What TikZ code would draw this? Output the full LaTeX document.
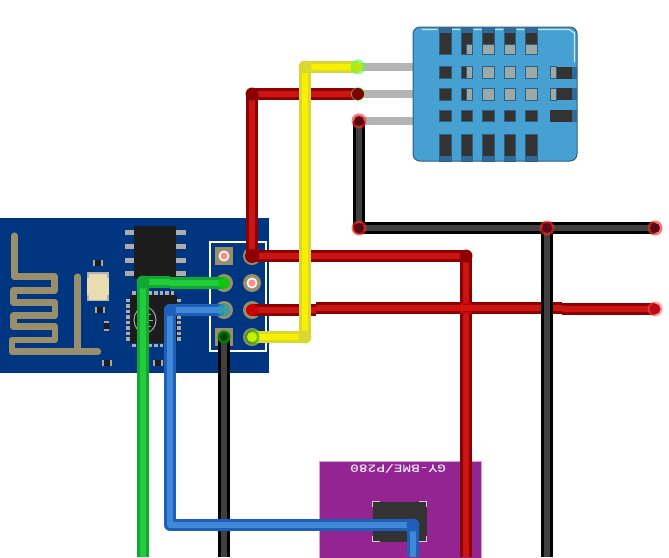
\documentclass[tikz,border=0pt]{standalone}
\usepackage{fontspec}
\newfontfamily\labelfont{Liberation Mono}[FakeBold=0.3]
\definecolor{cBoard}{HTML}{003580}
\definecolor{cTan}{HTML}{9A8F6C}
\definecolor{cChip}{HTML}{1C1C1C}
\definecolor{cSky}{HTML}{46A0D2}
\definecolor{cSkyEdge}{HTML}{2F5E80}
\definecolor{cCap}{HTML}{2F6A9A}
\definecolor{cSlot}{HTML}{333333}
\definecolor{cMesh}{HTML}{9AAAA8}
\definecolor{cPurple}{HTML}{932492}
\definecolor{cPurpleEdge}{HTML}{D6A0D0}
\definecolor{cCream}{HTML}{E8DCB0}
\definecolor{cGreenD}{HTML}{10A832}
\definecolor{cGreenL}{HTML}{22CC3A}
\definecolor{cBlueD}{HTML}{1F5FB8}
\definecolor{cBlueL}{HTML}{4088D8}
\definecolor{cBlackL}{HTML}{404040}
\definecolor{cRedD}{HTML}{8C0000}
\definecolor{cRedL}{HTML}{CC1414}
\definecolor{cYelD}{HTML}{D8D830}
\definecolor{cYelL}{HTML}{F8F000}
\definecolor{cLead}{HTML}{B4B4B4}
\definecolor{cTeal}{HTML}{28A0AA}
\definecolor{cLime}{HTML}{C8F000}
\definecolor{cMaroon}{HTML}{5A0A14}
\definecolor{cEndRed}{HTML}{BE0A14}
\definecolor{cEndDark}{HTML}{7D0000}
\definecolor{cLimeB}{HTML}{BEE614}
\tikzset{
  x=1pt,y=-1pt,
  wirebase/.style={line width=3pt,double distance=6pt,line join=round},
  greenwire/.style={wirebase,draw=cGreenD,double=cGreenL},
  bluewire/.style={wirebase,draw=cBlueD,double=cBlueL},
  blackwire/.style={wirebase,draw=black,double=cBlackL},
  redwire/.style={wirebase,draw=cRedD,double=cRedL},
  yellowwire/.style={wirebase,draw=cYelD,double=cYelL},
  holeround/.style={circle,fill=cTan,minimum size=18pt,inner sep=0pt},
  holesquare/.style={rectangle,fill=cTan,minimum size=18pt,inner sep=0pt},
  spot/.style={circle,inner sep=0pt,minimum size=1pt},
  smd/.style={fill=gray!70},
  smdk/.style={fill=cChip},
  dhtlead/.style={draw=cLead,line width=8pt},
  antenna/.style={draw=cTan,line width=6.5pt,line join=round,line cap=round},
  icpad/.style={fill=gray!65},
  slotbox/.style={draw=cSkyEdge,fill=cSlot,line width=.6pt},
  meshbox/.style={draw=cSkyEdge,fill=cMesh,line width=.6pt},
}
\newcommand{\smdh}[2]{\fill[smd] (#1-5,#2-3) rectangle (#1+5,#2+3);\fill[smdk] (#1-3,#2-3) rectangle (#1+3,#2+3);}
\newcommand{\smdv}[2]{\fill[smd] (#1-2.5,#2-5) rectangle (#1+2.5,#2+5);\fill[smdk] (#1-2.5,#2-3) rectangle (#1+2.5,#2+3);}
\newcommand{\pinkpad}[1]{\fill[white!85!pink] (#1) circle[radius=5.5pt];\fill[red!45!white] (#1) circle[radius=3.5pt];}
\begin{document}
\begin{tikzpicture}
\useasboundingbox (0,0) rectangle (669,557);
\clip (0,0) rectangle (669,557);
% ESP board
\fill[cBoard] (0,218) rectangle (269,373);
% antenna
\draw[antenna] (14.3,235.7) -- (14.3,276.7) -- (54.3,276.7) -- (54.3,290.7) -- (13.3,290.7) -- (13.3,302.7) -- (55,302.7) -- (55,315.7) -- (13.3,315.7) -- (13.3,326.7) -- (55,326.7) -- (55,340) -- (12,340) -- (12,351.7) -- (98,351.7);
\draw[antenna] (77.7,276.7) -- (77.7,351.7);
% LED
\fill[gray!60] (87,272) rectangle (109,301);
\fill[cCream] (89,274) rectangle (107.3,300);
\fill[cCream] (87,278) rectangle (109,295);
% small parts
\smdh{98}{263.3}
\smdh{99.5}{310}
\smdv{106}{325.5}
\smdh{107}{363}
\smdh{157.5}{363}
% flash chip
\foreach \yy in {232.7,246,260,273.3}{
  \fill[gray!65] (124.5,\yy-2.5) rectangle (134.5,\yy+2.5);
  \fill[gray!65] (176,\yy-2.5) rectangle (186,\yy+2.5);
}
\fill[cChip] (134.3,226) rectangle (176,279);
% ESP chip
\foreach \yy in {300.5,306,311.5,317,322.5,328,333.5,339}{
  \fill[icpad] (126,\yy-1.8) rectangle (129.5,\yy+1.8);
  \fill[icpad] (177,\yy-1.8) rectangle (181,\yy+1.8);
}
\foreach \xx in {134,139.5,145,150.5,156,161.5,167,172.5}{
  \fill[icpad] (\xx-1.8,291) rectangle (\xx+1.8,294.5);
  \fill[icpad] (\xx-1.8,343.5) rectangle (\xx+1.8,347);
}
\fill[cChip] (130,295) rectangle (176.7,343);
\draw[gray!70,line width=1pt] (145,320) ellipse[x radius=11pt,y radius=13pt];
\draw[gray!70,line width=1pt] (139,314) -- (151,314) (137,320) -- (153,320) (139,326) -- (151,326);
% header
\draw[white,line width=1.5pt] (210,242) rectangle (266,351);
\node[holesquare] (pA) at (224,256) {};
\node[holeround] (pB) at (224,283) {};
\node[holeround] (pC) at (224,310) {};
\node[holesquare] (pD) at (224,337) {};
\node[holeround] (pE) at (252,256) {};
\node[holeround] (pF) at (252,283) {};
\node[holeround] (pG) at (252,310) {};
\node[holeround] (pH) at (252,337) {};
\pinkpad{pA}
\pinkpad{pF}
% DHT leads
\coordinate (leadA) at (358,67);
\coordinate (leadB) at (358,94);
\coordinate (leadC) at (359,121);
\draw[dhtlead] (leadA) -- (413,67);
\draw[dhtlead] (leadB) -- (413,94);
\draw[dhtlead] (leadC) -- (413,121);
% DHT body
\draw[cSkyEdge,fill=cSky,line width=1pt,rounded corners=7pt] (413,27) rectangle (577,161);
\draw[white!70!cSky,line width=1.3pt] (422,29.5) -- (437,29.5) (452,29.5) -- (460,29.5) (473.5,29.5) -- (481.5,29.5) (495,29.5) -- (503,29.5) (516.5,29.5) -- (524.5,29.5) (538,29.5) -- (569,29.5) -- (574.5,33) -- (574.5,62);
\foreach \xa in {439.5,461,482.7,504,525.7}{
  \pgfmathsetmacro{\xb}{\xa+11.5}
  \draw[slotbox] (\xa,27) rectangle (\xb,54.3);
  \fill[cCap] (\xa,27) rectangle (\xb,32.5);
  \draw[slotbox] (\xa,66.7) rectangle (\xb,78.7);
  \draw[slotbox] (\xa,88.3) rectangle (\xb,100);
  \draw[slotbox] (\xa,110) rectangle (\xb,121.7);
  \draw[slotbox] (\xa,134.3) rectangle (\xb,161);
  \fill[cCap] (\xa,156) rectangle (\xb,161);
}
% mesh patches
\foreach \xa in {482.7,504,525.7}{
  \pgfmathsetmacro{\xb}{\xa+11.5}
  \draw[meshbox] (\xa,44.5) rectangle (\xb,54.3);
  \draw[meshbox] (\xa,66.7) rectangle (\xb,78.7);
  \draw[meshbox] (\xa,88.3) rectangle (\xb,100);
}
\draw[meshbox] (466.7,44.5) rectangle (472.5,54.3);
\draw[meshbox] (466.7,66.7) rectangle (472.5,78.7);
\draw[meshbox] (466.7,88.3) rectangle (472.5,100);
% right hand slots
\foreach \ya/\yb in {66.7/78.7,88.3/100}{
  \fill[cSlot] (550,\ya) rectangle (572,\yb);
  \draw[meshbox] (550,\ya) rectangle (556.7,\yb);
  \fill[cCap] (571.7,\ya) rectangle (577,\yb);
}
\fill[cSlot] (550,110) rectangle (572,121.7);
\fill[cCap] (571.7,110) rectangle (577,121.7);
% purple board
\draw[cPurpleEdge,fill=cPurple,line width=1pt] (319,461) rectangle (481,570);
\node[rotate=180,xscale=1.32,text=white!88!cPurple,font=\labelfont\fontsize{11}{11}\selectfont,inner sep=0pt] (label) at (398,468.5) {GY-BME/P280};
\fill[cSlot] (372.7,501.7) rectangle (426.7,541.7);
\draw[gray!40,line width=.8pt] (372.7,507) -- (372.7,501.7) -- (380,501.7) (419,501.7) -- (426.7,501.7) -- (426.7,507) (372.7,536) -- (372.7,541.7) -- (380,541.7) (419,541.7) -- (426.7,541.7) -- (426.7,536);
% wire routing points
\coordinate (gBend) at (143,282);
\coordinate (gStepA) at (170,283);
\coordinate (gStepB) at (170,282);
\coordinate (gEnd) at (143,557);
\coordinate (bBend) at (170,310);
\coordinate (bMid) at (170,525);
\coordinate (bBend2) at (413,525);
\coordinate (bEnd) at (413,557);
\coordinate (kEnd) at (224,557);
\coordinate (rBend) at (466,256);
\coordinate (rEnd) at (466,557);
\coordinate (rTop) at (252,94);
\coordinate (yBot) at (305,337);
\coordinate (yTop) at (305,67);
\coordinate (kCorner) at (359,228);
\node[spot] (kTee) at (547,228) {};
\coordinate (kRight) at (655,228);
\coordinate (kDown) at (547,557);
\coordinate (rRight) at (655,309);
\node[spot] (rCross) at (466,308) {};
\coordinate (rStepA) at (316,310);
\coordinate (rStepB) at (316,308);
\coordinate (rStepC) at (562,308);
\coordinate (rStepD) at (562,309);
% wires
\draw[redwire] (pE.center) -- (rBend) -- (rEnd);
\draw[redwire] (pE.center) -- (rTop) -- (leadB);
\draw[redwire] (pG.center) -- (rStepA);
\draw[redwire] (rStepB) -- (rCross.center) -- (rStepC);
\draw[redwire] (rStepD) -- (rRight);
\draw[blackwire] (leadC) -- (kCorner) -- (kRight);
\draw[blackwire] (kTee.center) -- (kDown);
\draw[blackwire] (pD.center) -- (kEnd);
\draw[greenwire] (pB.center) -- (gStepA);
\draw[greenwire] (gStepB) -- (gBend) -- (gEnd);
\draw[bluewire] (pC.center) -- (bBend) -- (bMid) -- (bBend2) -- (bEnd);
\draw[yellowwire] (pH.center) -- (yBot) -- (yTop) -- (leadA);
% bend joints
\fill[cGreenD] (gBend) circle[radius=6.5pt];
\fill[cBlueD] (bBend) circle[radius=6pt];
\fill[cBlueD] (bBend2) circle[radius=6.5pt];
\fill[cRedD] (rBend) circle[radius=6.5pt];
\fill[cRedD] (rTop) circle[radius=6.5pt];
\fill[cRedD] (pE.center) circle[radius=7pt];
\fill[cYelD] (yTop) circle[radius=6.5pt];
\fill[cYelD] (yBot) circle[radius=6.5pt];
% wire end markers on the header
\fill[green!80!black,opacity=.8] (pB.center) circle[radius=6pt];
\fill[cTeal,opacity=.75] (pC.center) circle[radius=6.5pt];
\fill[red!80!black] (pG.center) circle[radius=6pt];
\fill[green!65!black,opacity=.55] (pH.center) circle[radius=7.5pt];
\fill[cLime] (pH.center) circle[radius=5pt];
\fill[green!50!black] (pD.center) circle[radius=6.5pt];
\fill[black!75!green] (pD.center) circle[radius=4pt];
% wire end markers, free ends
\fill[green!70,opacity=.6] (leadA) circle[radius=7.5pt];
\fill[cLimeB] (leadA) circle[radius=5pt];
\fill[green!70,opacity=.6] (leadB) circle[radius=7pt];
\fill[cEndDark] (leadB) circle[radius=6pt];
\foreach \spotpt in {leadC,kCorner,kTee.center,kRight}{
  \fill[red!85!white,opacity=.65] (\spotpt) circle[radius=7.5pt];
  \fill[cMaroon] (\spotpt) circle[radius=5pt];
}
\fill[red!70!white,opacity=.55] (rRight) circle[radius=7.5pt];
\fill[cEndRed] (rRight) circle[radius=5.5pt];
\draw[red,line width=1.2pt] (rCross.center) circle[radius=5.5pt];
\end{tikzpicture}
\end{document}
